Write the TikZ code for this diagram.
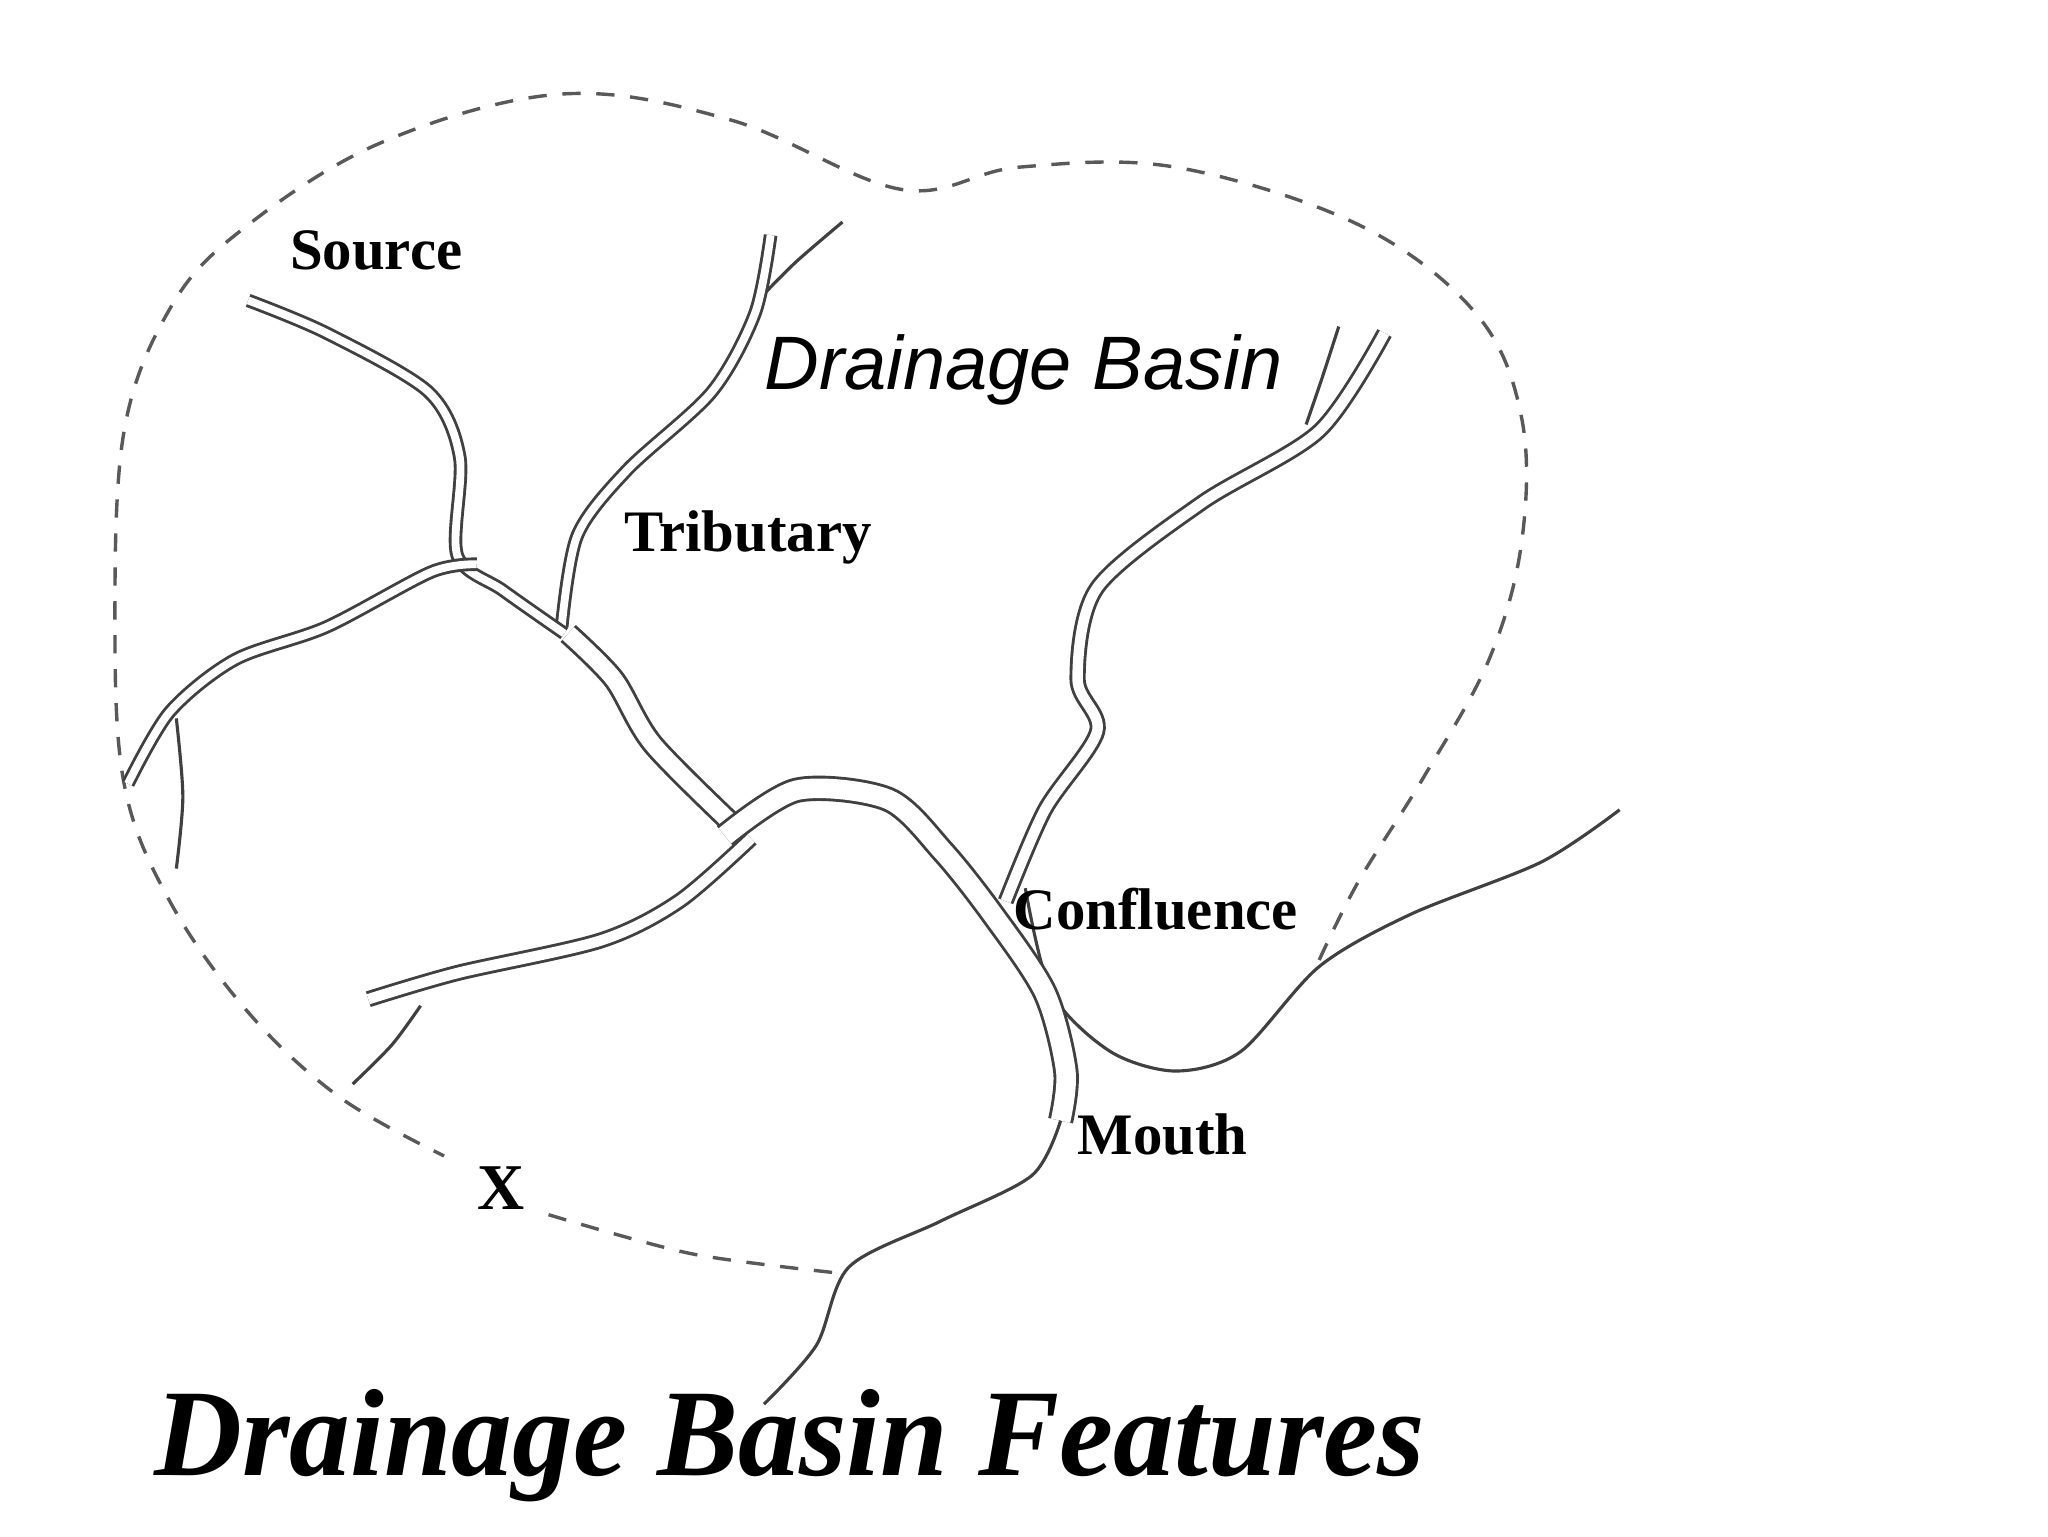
\documentclass[tikz,border=0pt]{standalone}
\usepackage{fontspec}
\setmainfont{Liberation Serif}
\newfontfamily\labsans{Liberation Sans}
\begin{document}
\begin{tikzpicture}[x=1pt,y=-1pt,
  riv/.style={draw=black!75, line width=2.2pt, double=white, double distance=#1},
  riv/.default=7pt,
  single/.style={draw=black!75, line width=2.4pt},
  bound/.style={draw=black!65, line width=2.6pt, dash pattern=on 14pt off 12pt},
  lab/.style={font=\bfseries\fontsize{45}{47}\selectfont, anchor=base west, inner sep=0pt}]
\useasboundingbox[fill=white] (0,0) rectangle (1568,1176);
% boundary
\draw[bound] plot[smooth, tension=0.6] coordinates {(1010,735) (1040,675) (1090,595) (1140,505) (1165,415) (1165,320) (1130,240) (1040,172) (900,128) (780,128) (690,145) (560,92) (430,72) (290,110) (180,180) (128,240) (95,330) (88,470) (95,600) (130,690) (190,775) (260,840) (340,885)};
\draw[bound] plot[smooth] coordinates {(420,930) (530,960) (645,975)};
% rivers
\draw[single] plot[smooth] coordinates {(645,170) (610,200) (585,225)};
\draw[riv=6pt] plot[smooth] coordinates {(590,180) (578,240) (545,300) (480,360) (442,410) (430,480)};
\draw[riv=6pt] plot[smooth] coordinates {(190,230) (250,255) (328,300) (352,350) (350,425) (385,452) (432,485)};
\draw[single] plot[smooth] coordinates {(135,550) (140,610) (135,665)};
\draw[riv=6pt] plot[smooth] coordinates {(98,600) (130,545) (180,505) (250,480) (330,438) (365,432)};
\draw[single] plot[smooth] coordinates {(1025,250) (1012,290) (1000,325)};
\draw[riv=8pt] plot[smooth] coordinates {(1060,255) (1010,330) (920,385) (840,450) (825,520) (840,560) (800,620) (770,690)};
\draw[single] plot[smooth] coordinates {(785,680) (805,760) (850,805) (900,820) (950,805) (1010,740) (1080,700) (1180,660) (1240,620)};
\draw[single] plot[smooth] coordinates {(270,830) (300,800) (322,770)};
\draw[riv=8pt] plot[smooth] coordinates {(282,765) (350,745) (460,720) (520,690) (575,642)};
\draw[riv=13pt] plot[smooth] coordinates {(435,485) (470,520) (500,570) (565,635)};
\draw[riv=15pt] plot[smooth] coordinates {(555,640) (610,605) (680,612) (722,652) (760,700) (800,760) (816,820) (812,858)};
\draw[single] plot[smooth] coordinates {(812,858) (790,900) (720,935) (650,970) (625,1030) (585,1075)};
% labels
\node[lab] (src) at (222,206) {Source};
\node[lab] (trib) at (478,422) {Tributary};
\node[lab] (conf) at (776,712) {Confluence};
\node[lab] (mouth) at (825,884) {Mouth};
\node[lab, font=\bfseries\fontsize{50}{52}\selectfont] (x) at (365,926) {X};
\node[anchor=base west, inner sep=0pt, font=\labsans\itshape\fontsize{58}{60}\selectfont] (db) at (585,298) {Drainage Basin};
\node[anchor=base west, inner sep=0pt, font=\bfseries\itshape\fontsize{95}{98}\selectfont, xscale=0.98] (title) at (118,1130) {Drainage Basin Features};
\end{tikzpicture}
\end{document}
